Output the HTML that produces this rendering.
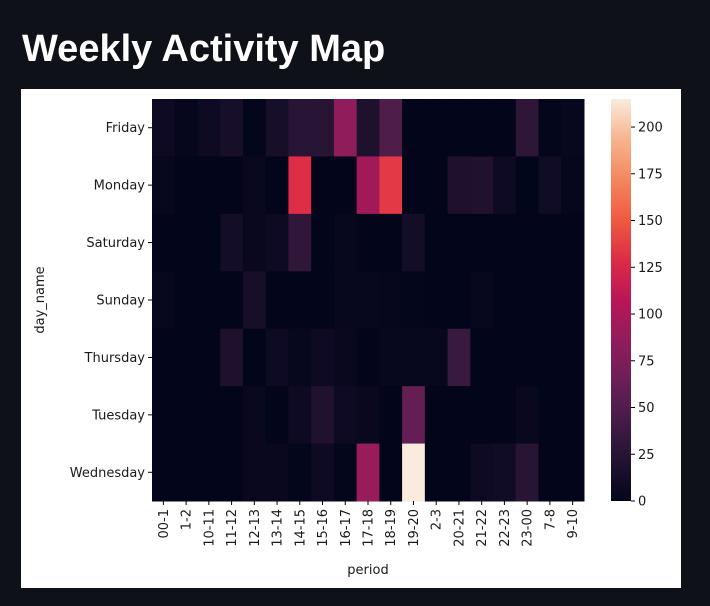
<!DOCTYPE html>
<html><head><meta charset="utf-8"><style>
body{margin:0;background:#0e1117;width:710px;height:606px;overflow:hidden;font-family:"DejaVu Sans","Liberation Sans",sans-serif}
h1{position:absolute;left:22px;top:28px;margin:0;color:#fff;font:bold 38px "Liberation Sans",sans-serif;letter-spacing:0px}
#panel{position:absolute;left:21px;top:89px;width:660px;height:499px;background:#fff}
</style></head><body>
<h1>Weekly Activity Map</h1>
<div id="panel">
<svg id="chart" width="660" height="499"></svg>
</div>
<script>
const days=["Friday","Monday","Saturday","Sunday","Thursday","Tuesday","Wednesday"];
const periods=["00-1","1-2","10-11","11-12","12-13","13-14","14-15","15-16","16-17","17-18","18-19","19-20","2-3","20-21","21-22","22-23","23-00","7-8","9-10"];
const rowFriday=[8,2,8,14,1,14,25,25,85,18,48,0,0,0,0,0,28,1,3];
const rowMonday=[3,0,0,0,5,0,130,0,0,95,135,0,0,18,20,8,0,10,2];
const rowSaturday=[0,0,0,12,5,8,30,0,3,0,0,12,0,0,0,0,0,0,0];
const rowSunday=[3,0,0,0,14,0,0,0,3,3,2,1,0,0,3,0,0,0,0];
const rowThursday=[0,0,0,18,0,8,3,8,4,0,3,3,3,35,0,0,0,0,0];
const rowTuesday=[0,0,0,0,5,0,8,20,8,5,0,60,0,0,0,0,4,0,0];
const rowWednesday=[0,0,0,0,5,5,1,8,1,90,0,215,0,0,8,10,25,0,0];
const values=[rowFriday,rowMonday,rowSaturday,rowSunday,rowThursday,rowTuesday,rowWednesday];
const cbTicks=[0,25,50,75,100,125,150,175,200];
const vmax=215;

const NS="http://www.w3.org/2000/svg";
const svg=document.getElementById('chart');
const ox=21,oy=89;
const X0=152-ox,X1=584-ox,Y0=99-oy,Y1=501-oy;
const cw=(X1-X0)/periods.length,ch=(Y1-Y0)/days.length;
const xPos=i=>X0+i*cw, yPos=j=>Y0+j*ch;
const stops=[[3,5,26],[34,19,49],[69,28,71],[107,31,86],[146,28,91],[185,22,87],[221,44,69],[239,90,65],[244,135,94],[246,180,142],[250,235,221]];
function color(v){let t=Math.max(0,Math.min(1,v/vmax))*(stops.length-1);let i=Math.min(Math.floor(t),stops.length-2),f=t-i;
const c=stops[i].map((a,k)=>Math.round(a+(stops[i+1][k]-a)*f));return `rgb(${c})`;}
function el(tag,attrs,text){const e=document.createElementNS(NS,tag);for(const k in attrs)e.setAttribute(k,attrs[k]);if(text!==undefined)e.textContent=text;svg.appendChild(e);return e;}
values.forEach((row,j)=>row.forEach((v,i)=>{
 const r=el('rect',{x:xPos(i),y:yPos(j),width:cw+0.5,height:ch+0.5,fill:color(v)});
 
 
}));
days.forEach((d,j)=>{
 const y=yPos(j)+ch/2;
 el('line',{x1:X0-4,x2:X0,y1:y,y2:y,stroke:'#000','stroke-width':1});
 const t=el('text',{x:X0-7,y:y+4.5,'text-anchor':'end','font-size':13,fill:'#1a1a1a'},d);
 
 
});
periods.forEach((p,i)=>{
 const x=xPos(i)+cw/2;
 el('line',{x1:x,x2:x,y1:Y1,y2:Y1+4,stroke:'#000','stroke-width':1});
 const t=el('text',{x:x+4.5,y:Y1+8,'text-anchor':'end','font-size':13,fill:'#1a1a1a',transform:`rotate(-90 ${x+4.5} ${Y1+8})`},p);
 
 
});
const xl=el('text',{x:(X0+X1)/2,y:485,'text-anchor':'middle','font-size':13,fill:'#1a1a1a'},'period');


const yl=el('text',{x:23,y:(Y0+Y1)/2,'text-anchor':'middle','font-size':13,fill:'#1a1a1a',transform:`rotate(-90 23 ${(Y0+Y1)/2})`},'day_name');


// colorbar
const CX=611-ox,CW=20;
const defs=el('defs',{});
const g=document.createElementNS(NS,'linearGradient');g.setAttribute('id','cb');g.setAttribute('x1',0);g.setAttribute('y1',1);g.setAttribute('x2',0);g.setAttribute('y2',0);
stops.forEach((s,k)=>{const st=document.createElementNS(NS,'stop');st.setAttribute('offset',k/(stops.length-1));st.setAttribute('stop-color',`rgb(${s})`);g.appendChild(st);});
defs.appendChild(g);
const cb=el('rect',{x:CX,y:Y0,width:CW,height:Y1-Y0,fill:'url(#cb)'});


const cy=v=>Y1-(v/vmax)*(Y1-Y0);
cbTicks.forEach(v=>{
 el('line',{x1:CX+CW,x2:CX+CW+4,y1:cy(v),y2:cy(v),stroke:'#000','stroke-width':1});
 const t=el('text',{x:CX+CW+7,y:cy(v)+4.5,'font-size':13,fill:'#1a1a1a'},String(v));
 
 
});
</script>
</body></html>
